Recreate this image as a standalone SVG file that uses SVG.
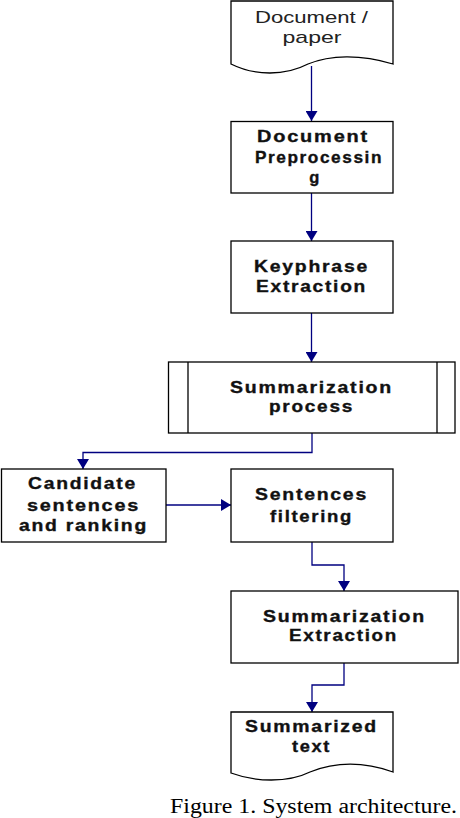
<svg xmlns="http://www.w3.org/2000/svg" width="460" height="818" viewBox="0 0 460 818">
<defs>
<marker id="ah" markerUnits="userSpaceOnUse" markerWidth="12" markerHeight="12" viewBox="0 0 10 12" refX="10" refY="6" orient="auto">
<path d="M0,0 L10,6 L0,12 Z" fill="#000080"/>
</marker>
<style>
.box{fill:#fff;stroke:#000;stroke-width:1.3}
.t{font-family:"Liberation Sans",Arial,sans-serif;font-weight:bold;font-size:16.5px;fill:#111;stroke:#111;stroke-width:0.35;text-anchor:middle;letter-spacing:1.5px}
.n{font-family:"Liberation Sans",Arial,sans-serif;font-size:17px;fill:#222;text-anchor:middle}
.c{fill:none;stroke:#000080;stroke-width:1.3}
.cap{font-family:"Liberation Serif","Times New Roman",serif;font-size:20px;fill:#000}
</style>
</defs>
<rect width="460" height="818" fill="#fff"/>
<g id="connectors">
<path class="c" d="M311.5,66 V121" marker-end="url(#ah)"/>
<path class="c" d="M311.5,193 V241" marker-end="url(#ah)"/>
<path class="c" d="M311.5,313 V362" marker-end="url(#ah)"/>
<path class="c" d="M312,433 V452.5 H83 V469" marker-end="url(#ah)"/>
<path class="c" d="M166,505 H231" marker-end="url(#ah)"/>
<path class="c" d="M312,542 V565 H344 V591" marker-end="url(#ah)"/>
<path class="c" d="M344,663 V685 H312 V712" marker-end="url(#ah)"/>
</g>
<g id="doc-paper">
<path class="box" d="M231,1 H393 V64 C360,54 330,55 308,64 C285,76 255,76 231,64 Z"/>
<text class="n" x="311.5" y="22.5" textLength="113" lengthAdjust="spacingAndGlyphs">Document /</text>
<text class="n" x="312" y="42.5" textLength="59" lengthAdjust="spacingAndGlyphs">paper</text>
</g>
<g id="preprocessing">
<rect class="box" x="231" y="121.5" width="162" height="71.5"/>
<text class="t" x="313" y="141.5" textLength="112" lengthAdjust="spacingAndGlyphs">Document</text>
<text class="t" x="319" y="163" textLength="128" lengthAdjust="spacingAndGlyphs">Preprocessin</text>
<text class="t" x="315" y="183">g</text>
</g>
<g id="keyphrase">
<rect class="box" x="231" y="241" width="162" height="72"/>
<text class="t" x="311.5" y="272" textLength="115" lengthAdjust="spacingAndGlyphs">Keyphrase</text>
<text class="t" x="311.5" y="291.5" textLength="111" lengthAdjust="spacingAndGlyphs">Extraction</text>
</g>
<g id="summarization-process">
<rect class="box" x="168.5" y="362" width="286.5" height="71"/>
<line x1="188" y1="362" x2="188" y2="433" stroke="#000" stroke-width="1.3"/>
<line x1="437" y1="362" x2="437" y2="433" stroke="#000" stroke-width="1.3"/>
<text class="t" x="311.5" y="392.7" textLength="163" lengthAdjust="spacingAndGlyphs">Summarization</text>
<text class="t" x="311.5" y="412" textLength="85" lengthAdjust="spacingAndGlyphs">process</text>
</g>
<g id="candidate">
<rect class="box" x="1.5" y="469" width="164.5" height="73" stroke-width="1.8"/>
<text class="t" x="82.5" y="489" textLength="109" lengthAdjust="spacingAndGlyphs">Candidate</text>
<text class="t" x="83.5" y="510.5" textLength="113" lengthAdjust="spacingAndGlyphs">sentences</text>
<text class="t" x="83.5" y="530.5" textLength="129" lengthAdjust="spacingAndGlyphs">and ranking</text>
</g>
<g id="filtering">
<rect class="box" x="231" y="469" width="162" height="73"/>
<text class="t" x="311.5" y="500" textLength="113" lengthAdjust="spacingAndGlyphs">Sentences</text>
<text class="t" x="311.5" y="521.7" textLength="83" lengthAdjust="spacingAndGlyphs">filtering</text>
</g>
<g id="summarization-extraction">
<rect class="box" x="231" y="591" width="227" height="72"/>
<text class="t" x="344.5" y="621.7" textLength="163" lengthAdjust="spacingAndGlyphs">Summarization</text>
<text class="t" x="343.5" y="640.7" textLength="109" lengthAdjust="spacingAndGlyphs">Extraction</text>
</g>
<g id="summarized-text">
<path class="box" d="M231,712 H393 V772 C362,761 335,762 310,772 C288,783 255,782 231,773 Z"/>
<text class="t" x="311.5" y="732.3" textLength="133" lengthAdjust="spacingAndGlyphs">Summarized</text>
<text class="t" x="311.5" y="751.7" textLength="39" lengthAdjust="spacingAndGlyphs">text</text>
</g>
<text class="cap" x="170" y="812.5" textLength="287" lengthAdjust="spacingAndGlyphs">Figure 1. System architecture.</text>
</svg>
